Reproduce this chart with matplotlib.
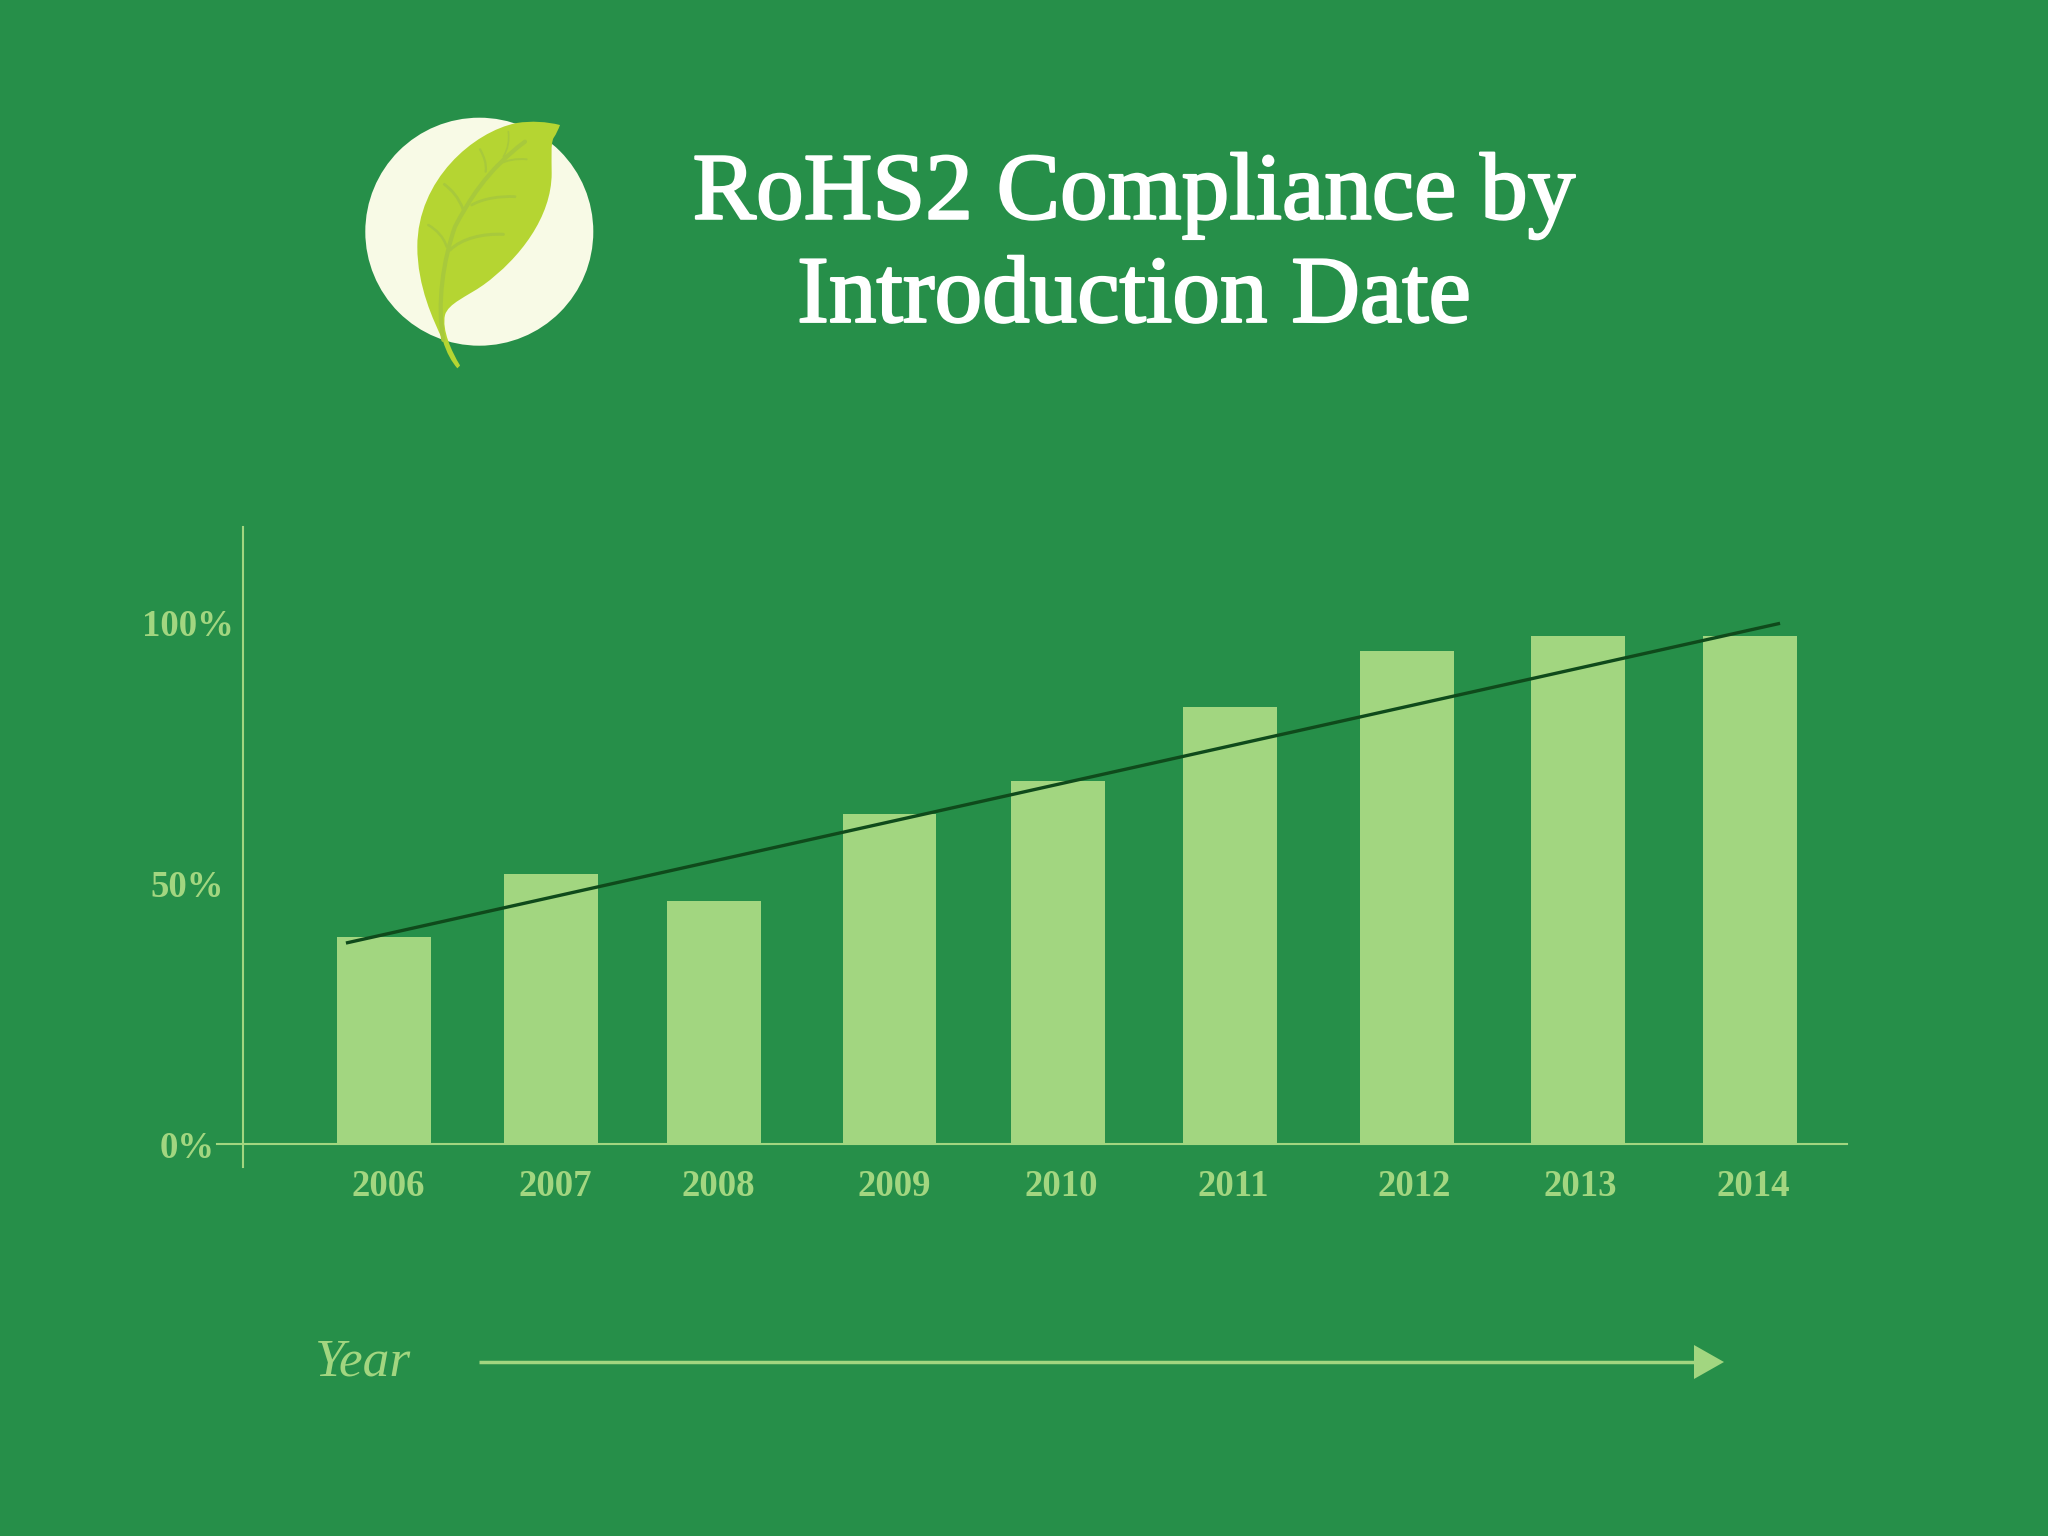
import matplotlib
matplotlib.use("Agg")
import matplotlib.pyplot as plt
from matplotlib.path import Path
from matplotlib.patches import PathPatch, Circle, Polygon
from matplotlib.transforms import ScaledTranslation
import matplotlib.patheffects as pe

# --- data ---
years = ["2006", "2007", "2008", "2009", "2010", "2011", "2012", "2013", "2014"]
compliance = [39.75, 51.75, 46.5, 63.25, 69.5, 83.75, 94.5, 97.25, 97.25]
trend_start_end = [38.5, 99.75]
y_ticks = [0, 50, 100]
y_tick_labels = ["0%", "50%", "100%"]
title = "RoHS2 Compliance by\nIntroduction Date"
axis_label = "Year"

# --- layout (the original bars are slightly unevenly spaced) ---
bar_offsets = [0, .979, 1.935, 2.96, 3.947, 4.956, 5.988, 6.99, 8.0]
label_offsets = [.023, 1.0, 1.957, 2.99, 3.964, 4.973, 6.03, 7.003, 8.016]
trend_offsets = [-0.223, 8.175]
W, H = 2048, 1536
BG, LIGHT, DARK = "#268F49", "#A2D680", "#0F4A1B"

fig = plt.figure(figsize=(W / 100, H / 100), dpi=100, facecolor=BG)
ax = fig.add_axes([217 / W, 1 - 1167 / H, (1847 - 217) / W, (1167 - 527) / H])
ax.patch.set_alpha(0)
ax.set_xlim(-0.978, 8.567)
ax.set_ylim(-4.4, 118.2)
ax.bar(bar_offsets, compliance, width=0.55, color=LIGHT, zorder=2)
ax.plot(trend_offsets, trend_start_end, color=DARK, lw=2.4, zorder=3, solid_capstyle="butt")

for s in ["top", "right"]:
    ax.spines[s].set_visible(False)
ax.spines["bottom"].set_position(("data", 0))
ax.spines["left"].set_position(("data", -0.8256))
for s in ["bottom", "left"]:
    ax.spines[s].set_color(LIGHT)
    ax.spines[s].set_linewidth(1.5)
    ax.spines[s].set_zorder(4)

tick_font = dict(family="Liberation Serif", weight="bold", size=26.5, color=LIGHT)
ax.set_xticks(label_offsets, years, va="center", **tick_font)
ax.set_yticks(y_ticks, y_tick_labels, ha="center", va="center", **tick_font)
ax.tick_params(axis="x", length=0, pad=30.5)
ax.tick_params(axis="y", length=0, pad=40)
shift = ScaledTranslation(0, -4 / 100, fig.dpi_scale_trans)
for lab in ax.get_yticklabels():
    lab.set_transform(lab.get_transform() + shift)

# --- overlay in pixel coordinates for the decoration ---
ov = fig.add_axes([0, 0, 1, 1])
ov.set_xlim(0, W)
ov.set_ylim(H, 0)
ov.axis("off")

ov.add_patch(Circle((479.3, 231.7), 114, color="#F8FAE6", lw=0))


def z(x, y):
    return 340 + x / 3, 90 + y / 3


leaf = [(660, 105), (620, 95), (575, 92), (530, 99),
        (400, 125), (232, 270), (232, 470),
        (232, 590), (280, 690), (308, 750),
        (320, 790), (335, 815), (352, 835),
        (358, 830), (360, 826), (360, 826),
        (335, 785), (305, 720), (315, 675),
        (325, 640), (380, 620), (430, 585),
        (540, 505), (635, 380), (635, 250),
        (635, 200), (632, 165), (640, 145),
        (650, 130), (655, 118), (660, 105)]
codes = [Path.MOVETO] + [Path.CURVE4] * (len(leaf) - 1)
ov.add_patch(PathPatch(Path([z(*p) for p in leaf], codes), fc="#B5D532", ec="none"))

veins = [
    ([(310, 750), (290, 640), (310, 510), (345, 410), (385, 335), (440, 240), (555, 155)], 3.0),
    ([(330, 480), (365, 445), (430, 430), (490, 433)], 2.2),
    ([(320, 470), (310, 440), (290, 420), (265, 405)], 1.8),
    ([(370, 360), (355, 320), (335, 300), (313, 283)], 2.0),
    ([(395, 345), (430, 325), (480, 318), (525, 320)], 2.0),
    ([(437, 245), (440, 220), (432, 200), (420, 178)], 1.6),
    ([(470, 225), (500, 210), (530, 205), (560, 208)], 1.4),
    ([(490, 200), (505, 175), (508, 150), (505, 125)], 1.2),
]
for pts, lw in veins:
    c = [Path.MOVETO] + [Path.CURVE4] * (len(pts) - 1)
    ov.add_patch(PathPatch(Path([z(*p) for p in pts], c), fc="none", ec="#A8C93C", lw=lw, capstyle="round"))

ov.text(1134, 247, title, ha="center", va="center", multialignment="center",
        family="Liberation Serif", size=68.5, color="white", linespacing=1.25,
        path_effects=[pe.withStroke(linewidth=1.6, foreground="white")])

ov.text(363, 1363, axis_label, ha="center", va="center", family="Liberation Serif",
        style="italic", size=38.5, color=LIGHT)
ov.plot([479, 1700], [1362, 1362], color=LIGHT, lw=2.5, solid_capstyle="butt")
ov.add_patch(Polygon([(1694, 1345), (1724, 1362), (1694, 1379)], closed=True, fc=LIGHT, ec="none"))

fig.savefig("out.png", dpi=100, facecolor=BG)
